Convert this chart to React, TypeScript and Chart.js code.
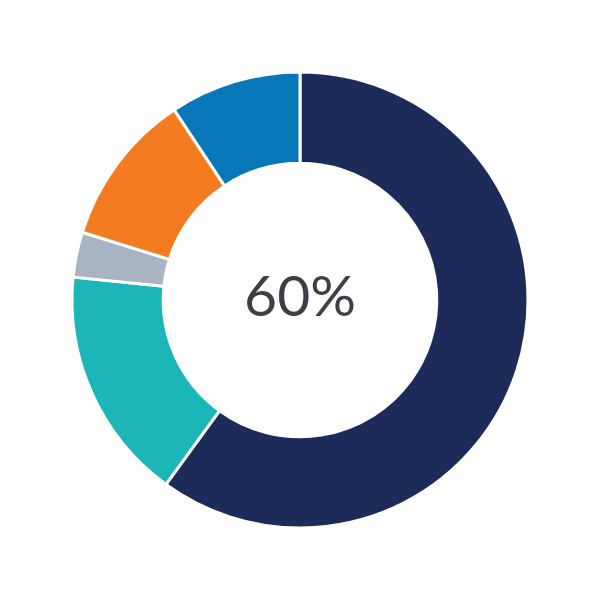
import { useEffect, useRef } from 'react';
import { Chart, type ChartConfiguration, type Plugin, registerables } from 'chart.js';

Chart.register(...registerables);

const labels = ['Navy', 'Teal', 'Gray', 'Orange', 'Blue'];
const values = [60, 16.6, 3.2, 10.9, 9.3];
const colors = ['#1d2b5b', '#1cb5b8', '#a9b4c2', '#f47b20', '#0877b8'];
const centerLabel = '60%';

const centerText: Plugin<'doughnut'> = {
  id: 'centerText',
  afterDraw(chart) {
    const { ctx } = chart;
    const meta = chart.getDatasetMeta(0);
    const arc = meta.data[0];
    if (!arc) return;
    ctx.save();
    ctx.font = '400 57px Lato, "Open Sans", sans-serif';
    ctx.fillStyle = '#3b4046';
    ctx.textAlign = 'center';
    ctx.textBaseline = 'middle';
    ctx.fillText(centerLabel, arc.x, arc.y - 2);
    ctx.restore();
  },
};

function DonutChart() {
  const canvasRef = useRef<HTMLCanvasElement | null>(null);
  const chartRef = useRef<Chart<'doughnut'> | null>(null);

  useEffect(() => {
    if (!canvasRef.current) return;
    const config: ChartConfiguration<'doughnut'> = {
      type: 'doughnut',
      data: {
        labels,
        datasets: [
          {
            data: values,
            backgroundColor: colors,
            borderColor: '#ffffff',
            borderWidth: 3,
            hoverOffset: 0,
          },
        ],
      },
      options: {
        responsive: true,
        maintainAspectRatio: false,
        animation: false,
        radius: 228,
        cutout: '60%', // inner radius relative to outer radius
        plugins: {
          legend: { display: false },
          tooltip: { enabled: false },
        },
      },
      plugins: [centerText],
    };

    chartRef.current = new Chart(canvasRef.current, config);

    // cleanup
    return () => {
      chartRef.current?.destroy();
      chartRef.current = null;
    };
  }, []);

  return (
    <div style={{ position: 'relative', width: 584, height: 584 }}>
      <canvas ref={canvasRef} />
    </div>
  );
}

export default function App() {
  return <DonutChart />;
}
